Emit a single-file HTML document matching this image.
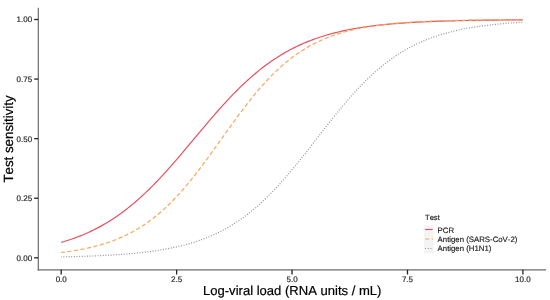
<!DOCTYPE html>
<html><head><meta charset="utf-8"><style>
html,body{margin:0;padding:0;background:#fff;}
body{width:550px;height:300px;overflow:hidden;}
svg{display:block;text-rendering:geometricPrecision;font-kerning:none;font-family:"Liberation Sans",Arial,sans-serif;}
</style></head><body>
<svg width="550" height="300" viewBox="0 0 550 300">
<rect width="550" height="300" fill="#fff"/>
<g fill="none" stroke-width="1.2" stroke-linejoin="round">
<path d="M61.20,242.42 L63.51,241.74 L65.82,241.03 L68.13,240.30 L70.43,239.53 L72.74,238.73 L75.05,237.90 L77.36,237.04 L79.67,236.14 L81.98,235.21 L84.28,234.24 L86.59,233.24 L88.90,232.20 L91.21,231.12 L93.52,230.00 L95.83,228.84 L98.14,227.64 L100.44,226.39 L102.75,225.11 L105.06,223.78 L107.37,222.40 L109.68,220.98 L111.99,219.51 L114.30,218.00 L116.60,216.43 L118.91,214.82 L121.22,213.16 L123.53,211.46 L125.84,209.70 L128.15,207.89 L130.45,206.04 L132.76,204.13 L135.07,202.18 L137.38,200.18 L139.69,198.13 L142.00,196.03 L144.31,193.88 L146.61,191.69 L148.92,189.45 L151.23,187.16 L153.54,184.84 L155.85,182.47 L158.16,180.05 L160.47,177.61 L162.77,175.12 L165.08,172.60 L167.39,170.04 L169.70,167.45 L172.01,164.83 L174.32,162.19 L176.62,159.52 L178.93,156.83 L181.24,154.12 L183.55,151.40 L185.86,148.66 L188.17,145.91 L190.48,143.15 L192.78,140.39 L195.09,137.63 L197.40,134.86 L199.71,132.10 L202.02,129.35 L204.33,126.61 L206.64,123.88 L208.94,121.17 L211.25,118.47 L213.56,115.80 L215.87,113.15 L218.18,110.52 L220.49,107.93 L222.80,105.36 L225.10,102.83 L227.41,100.33 L229.72,97.87 L232.03,95.45 L234.34,93.07 L236.65,90.73 L238.95,88.44 L241.26,86.19 L243.57,83.98 L245.88,81.82 L248.19,79.71 L250.50,77.65 L252.81,75.63 L255.11,73.67 L257.42,71.75 L259.73,69.88 L262.04,68.06 L264.35,66.29 L266.66,64.57 L268.97,62.90 L271.27,61.28 L273.58,59.70 L275.89,58.18 L278.20,56.70 L280.51,55.26 L282.82,53.88 L285.12,52.53 L287.43,51.23 L289.74,49.98 L292.05,48.77 L294.36,47.60 L296.67,46.47 L298.98,45.38 L301.28,44.33 L303.59,43.31 L305.90,42.34 L308.21,41.40 L310.52,40.49 L312.83,39.62 L315.13,38.78 L317.44,37.98 L319.75,37.20 L322.06,36.45 L324.37,35.74 L326.68,35.05 L328.99,34.39 L331.29,33.75 L333.60,33.14 L335.91,32.56 L338.22,32.00 L340.53,31.46 L342.84,30.94 L345.15,30.45 L347.45,29.97 L349.76,29.52 L352.07,29.08 L354.38,28.67 L356.69,28.27 L359.00,27.88 L361.31,27.52 L363.61,27.16 L365.92,26.83 L368.23,26.50 L370.54,26.20 L372.85,25.90 L375.16,25.62 L377.46,25.35 L379.77,25.09 L382.08,24.84 L384.39,24.60 L386.70,24.38 L389.01,24.16 L391.32,23.95 L393.62,23.75 L395.93,23.56 L398.24,23.38 L400.55,23.21 L402.86,23.04 L405.17,22.89 L407.48,22.73 L409.78,22.59 L412.09,22.45 L414.40,22.32 L416.71,22.19 L419.02,22.07 L421.33,21.96 L423.63,21.85 L425.94,21.74 L428.25,21.64 L430.56,21.54 L432.87,21.45 L435.18,21.36 L437.49,21.28 L439.79,21.20 L442.10,21.12 L444.41,21.05 L446.72,20.98 L449.03,20.91 L451.34,20.85 L453.64,20.79 L455.95,20.73 L458.26,20.68 L460.57,20.62 L462.88,20.57 L465.19,20.52 L467.50,20.48 L469.80,20.43 L472.11,20.39 L474.42,20.35 L476.73,20.31 L479.04,20.28 L481.35,20.24 L483.66,20.21 L485.96,20.18 L488.27,20.14 L490.58,20.12 L492.89,20.09 L495.20,20.06 L497.51,20.04 L499.81,20.01 L502.12,19.99 L504.43,19.97 L506.74,19.95 L509.05,19.92 L511.36,19.91 L513.67,19.89 L515.97,19.87 L518.28,19.85 L520.59,19.84 L522.90,19.82" stroke="#e5505f"/>
<path d="M61.20,252.51 L63.51,252.22 L65.82,251.91 L68.13,251.59 L70.43,251.26 L72.74,250.90 L75.05,250.53 L77.36,250.13 L79.67,249.72 L81.98,249.28 L84.28,248.82 L86.59,248.34 L88.90,247.83 L91.21,247.30 L93.52,246.74 L95.83,246.15 L98.14,245.53 L100.44,244.88 L102.75,244.20 L105.06,243.49 L107.37,242.74 L109.68,241.95 L111.99,241.13 L114.30,240.26 L116.60,239.36 L118.91,238.41 L121.22,237.41 L123.53,236.38 L125.84,235.29 L128.15,234.16 L130.45,232.97 L132.76,231.73 L135.07,230.44 L137.38,229.10 L139.69,227.69 L142.00,226.23 L144.31,224.71 L146.61,223.13 L148.92,221.48 L151.23,219.78 L153.54,218.00 L155.85,216.16 L158.16,214.26 L160.47,212.29 L162.77,210.25 L165.08,208.14 L167.39,205.97 L169.70,203.73 L172.01,201.42 L174.32,199.04 L176.62,196.60 L178.93,194.09 L181.24,191.51 L183.55,188.88 L185.86,186.18 L188.17,183.42 L190.48,180.61 L192.78,177.74 L195.09,174.82 L197.40,171.85 L199.71,168.84 L202.02,165.78 L204.33,162.69 L206.64,159.56 L208.94,156.40 L211.25,153.22 L213.56,150.01 L215.87,146.79 L218.18,143.56 L220.49,140.32 L222.80,137.07 L225.10,133.83 L227.41,130.60 L229.72,127.37 L232.03,124.17 L234.34,120.98 L236.65,117.82 L238.95,114.70 L241.26,111.60 L243.57,108.54 L245.88,105.53 L248.19,102.56 L250.50,99.64 L252.81,96.77 L255.11,93.95 L257.42,91.19 L259.73,88.49 L262.04,85.86 L264.35,83.28 L266.66,80.77 L268.97,78.32 L271.27,75.94 L273.58,73.63 L275.89,71.39 L278.20,69.21 L280.51,67.10 L282.82,65.06 L285.12,63.09 L287.43,61.19 L289.74,59.35 L292.05,57.57 L294.36,55.86 L296.67,54.22 L298.98,52.63 L301.28,51.11 L303.59,49.65 L305.90,48.24 L308.21,46.89 L310.52,45.60 L312.83,44.36 L315.13,43.17 L317.44,42.04 L319.75,40.95 L322.06,39.91 L324.37,38.92 L326.68,37.97 L328.99,37.06 L331.29,36.20 L333.60,35.37 L335.91,34.58 L338.22,33.83 L340.53,33.12 L342.84,32.43 L345.15,31.78 L347.45,31.16 L349.76,30.58 L352.07,30.01 L354.38,29.48 L356.69,28.97 L359.00,28.49 L361.31,28.03 L363.61,27.59 L365.92,27.18 L368.23,26.78 L370.54,26.41 L372.85,26.05 L375.16,25.71 L377.46,25.39 L379.77,25.09 L382.08,24.80 L384.39,24.52 L386.70,24.26 L389.01,24.02 L391.32,23.78 L393.62,23.56 L395.93,23.35 L398.24,23.15 L400.55,22.95 L402.86,22.77 L405.17,22.60 L407.48,22.44 L409.78,22.29 L412.09,22.14 L414.40,22.00 L416.71,21.87 L419.02,21.75 L421.33,21.63 L423.63,21.52 L425.94,21.41 L428.25,21.31 L430.56,21.21 L432.87,21.12 L435.18,21.04 L437.49,20.96 L439.79,20.88 L442.10,20.81 L444.41,20.74 L446.72,20.67 L449.03,20.61 L451.34,20.55 L453.64,20.50 L455.95,20.45 L458.26,20.40 L460.57,20.35 L462.88,20.30 L465.19,20.26 L467.50,20.22 L469.80,20.18 L472.11,20.15 L474.42,20.11 L476.73,20.08 L479.04,20.05 L481.35,20.02 L483.66,19.99 L485.96,19.97 L488.27,19.94 L490.58,19.92 L492.89,19.90 L495.20,19.88 L497.51,19.86 L499.81,19.84 L502.12,19.82 L504.43,19.80 L506.74,19.79 L509.05,19.77 L511.36,19.76 L513.67,19.74 L515.97,19.73 L518.28,19.72 L520.59,19.71 L522.90,19.70" stroke="#f6a85e" stroke-dasharray="4.2 2.421" stroke-dashoffset="0.44"/>
<path d="M61.20,256.87 L63.51,256.82 L65.82,256.77 L68.13,256.72 L70.43,256.66 L72.74,256.60 L75.05,256.54 L77.36,256.48 L79.67,256.41 L81.98,256.34 L84.28,256.26 L86.59,256.19 L88.90,256.10 L91.21,256.02 L93.52,255.93 L95.83,255.83 L98.14,255.73 L100.44,255.63 L102.75,255.51 L105.06,255.40 L107.37,255.28 L109.68,255.15 L111.99,255.01 L114.30,254.87 L116.60,254.73 L118.91,254.57 L121.22,254.41 L123.53,254.23 L125.84,254.05 L128.15,253.87 L130.45,253.67 L132.76,253.46 L135.07,253.24 L137.38,253.01 L139.69,252.77 L142.00,252.52 L144.31,252.25 L146.61,251.98 L148.92,251.69 L151.23,251.38 L153.54,251.06 L155.85,250.72 L158.16,250.37 L160.47,250.00 L162.77,249.62 L165.08,249.21 L167.39,248.79 L169.70,248.35 L172.01,247.88 L174.32,247.39 L176.62,246.88 L178.93,246.35 L181.24,245.79 L183.55,245.21 L185.86,244.60 L188.17,243.96 L190.48,243.30 L192.78,242.60 L195.09,241.87 L197.40,241.11 L199.71,240.32 L202.02,239.49 L204.33,238.63 L206.64,237.73 L208.94,236.79 L211.25,235.81 L213.56,234.79 L215.87,233.73 L218.18,232.62 L220.49,231.47 L222.80,230.28 L225.10,229.04 L227.41,227.75 L229.72,226.41 L232.03,225.02 L234.34,223.58 L236.65,222.09 L238.95,220.54 L241.26,218.94 L243.57,217.29 L245.88,215.58 L248.19,213.81 L250.50,211.99 L252.81,210.11 L255.11,208.17 L257.42,206.18 L259.73,204.13 L262.04,202.02 L264.35,199.85 L266.66,197.63 L268.97,195.35 L271.27,193.02 L273.58,190.63 L275.89,188.19 L278.20,185.70 L280.51,183.16 L282.82,180.57 L285.12,177.94 L287.43,175.26 L289.74,172.54 L292.05,169.78 L294.36,166.99 L296.67,164.16 L298.98,161.30 L301.28,158.42 L303.59,155.51 L305.90,152.58 L308.21,149.63 L310.52,146.67 L312.83,143.69 L315.13,140.72 L317.44,137.74 L319.75,134.76 L322.06,131.78 L324.37,128.82 L326.68,125.86 L328.99,122.93 L331.29,120.01 L333.60,117.11 L335.91,114.24 L338.22,111.40 L340.53,108.59 L342.84,105.82 L345.15,103.09 L347.45,100.39 L349.76,97.74 L352.07,95.13 L354.38,92.58 L356.69,90.07 L359.00,87.61 L361.31,85.20 L363.61,82.85 L365.92,80.55 L368.23,78.30 L370.54,76.11 L372.85,73.98 L375.16,71.91 L377.46,69.89 L379.77,67.93 L382.08,66.03 L384.39,64.19 L386.70,62.40 L389.01,60.67 L391.32,58.99 L393.62,57.37 L395.93,55.80 L398.24,54.29 L400.55,52.83 L402.86,51.42 L405.17,50.06 L407.48,48.75 L409.78,47.50 L412.09,46.28 L414.40,45.12 L416.71,43.99 L419.02,42.92 L421.33,41.88 L423.63,40.89 L425.94,39.93 L428.25,39.02 L430.56,38.14 L432.87,37.30 L435.18,36.49 L437.49,35.72 L439.79,34.98 L442.10,34.27 L444.41,33.59 L446.72,32.94 L449.03,32.32 L451.34,31.73 L453.64,31.16 L455.95,30.62 L458.26,30.10 L460.57,29.60 L462.88,29.13 L465.19,28.68 L467.50,28.25 L469.80,27.84 L472.11,27.44 L474.42,27.07 L476.73,26.71 L479.04,26.37 L481.35,26.04 L483.66,25.73 L485.96,25.43 L488.27,25.15 L490.58,24.88 L492.89,24.63 L495.20,24.38 L497.51,24.15 L499.81,23.92 L502.12,23.71 L504.43,23.51 L506.74,23.32 L509.05,23.13 L511.36,22.96 L513.67,22.79 L515.97,22.63 L518.28,22.48 L520.59,22.34 L522.90,22.20" stroke="#8c93a3" stroke-dasharray="1 1.6306" stroke-dashoffset="0.5"/>
</g>
<g stroke="#6b6b6b" stroke-width="1.2" fill="none">
<line x1="38.3" x2="38.3" y1="7.8" y2="270.4"/>
<line x1="37.7" x2="546" y1="269.8" y2="269.8"/>
</g>
<g stroke="#222" stroke-width="1.3"><line x1="34.2" x2="38.2" y1="257.80" y2="257.80"/><line x1="34.2" x2="38.2" y1="198.23" y2="198.23"/><line x1="34.2" x2="38.2" y1="138.65" y2="138.65"/><line x1="34.2" x2="38.2" y1="79.07" y2="79.07"/><line x1="34.2" x2="38.2" y1="19.50" y2="19.50"/><line x1="61.20" x2="61.20" y1="269.8" y2="274.5"/><line x1="176.62" x2="176.62" y1="269.8" y2="274.5"/><line x1="292.05" x2="292.05" y1="269.8" y2="274.5"/><line x1="407.48" x2="407.48" y1="269.8" y2="274.5"/><line x1="522.90" x2="522.90" y1="269.8" y2="274.5"/></g>
<g fill="#2b2b2b" stroke="#2b2b2b" stroke-width="0.2" font-size="8" text-anchor="end"><text x="32.2" y="260.70">0.00</text><text x="32.2" y="201.13">0.25</text><text x="32.2" y="141.55">0.50</text><text x="32.2" y="81.97">0.75</text><text x="32.2" y="22.40">1.00</text></g>
<g fill="#2b2b2b" stroke="#2b2b2b" stroke-width="0.2" font-size="8" text-anchor="middle"><text x="61.20" y="282">0.0</text><text x="176.62" y="282">2.5</text><text x="292.05" y="282">5.0</text><text x="407.48" y="282">7.5</text><text x="522.90" y="282">10.0</text></g>
<text x="292.2" y="294.9" font-size="13.05" text-anchor="middle" fill="#000" stroke="#000" stroke-width="0.2">Log-viral load (RNA units / mL)</text>
<text transform="translate(12.8,139) rotate(-90)" font-size="13.3" text-anchor="middle" fill="#000" stroke="#000" stroke-width="0.2">Test sensitivity</text>
<text x="425" y="220.3" font-size="7.6" fill="#1a1a1a" stroke="#1a1a1a" stroke-width="0.15">Test</text>
<rect x="424" y="224.8" width="9.5" height="28.5" fill="#f4f4f4"/>
<line x1="425.1" x2="432.6" y1="229.5" y2="229.5" stroke="#e5505f" stroke-width="1.2"/>
<line x1="425.1" x2="433" y1="239" y2="239" stroke="#f6a85e" stroke-width="1.2" stroke-dasharray="4.3 2.4"/>
<line x1="425.1" x2="433" y1="248.5" y2="248.5" stroke="#8c93a3" stroke-width="1.2" stroke-dasharray="1 1.62"/>
<g font-size="7.8" fill="#1a1a1a" stroke="#1a1a1a" stroke-width="0.15">
<text x="437.6" y="232.8">PCR</text>
<text x="437.6" y="241.8">Antigen (SARS-CoV-2)</text>
<text x="437.6" y="250.6">Antigen (H1N1)</text>
</g>
</svg>
</body></html>
